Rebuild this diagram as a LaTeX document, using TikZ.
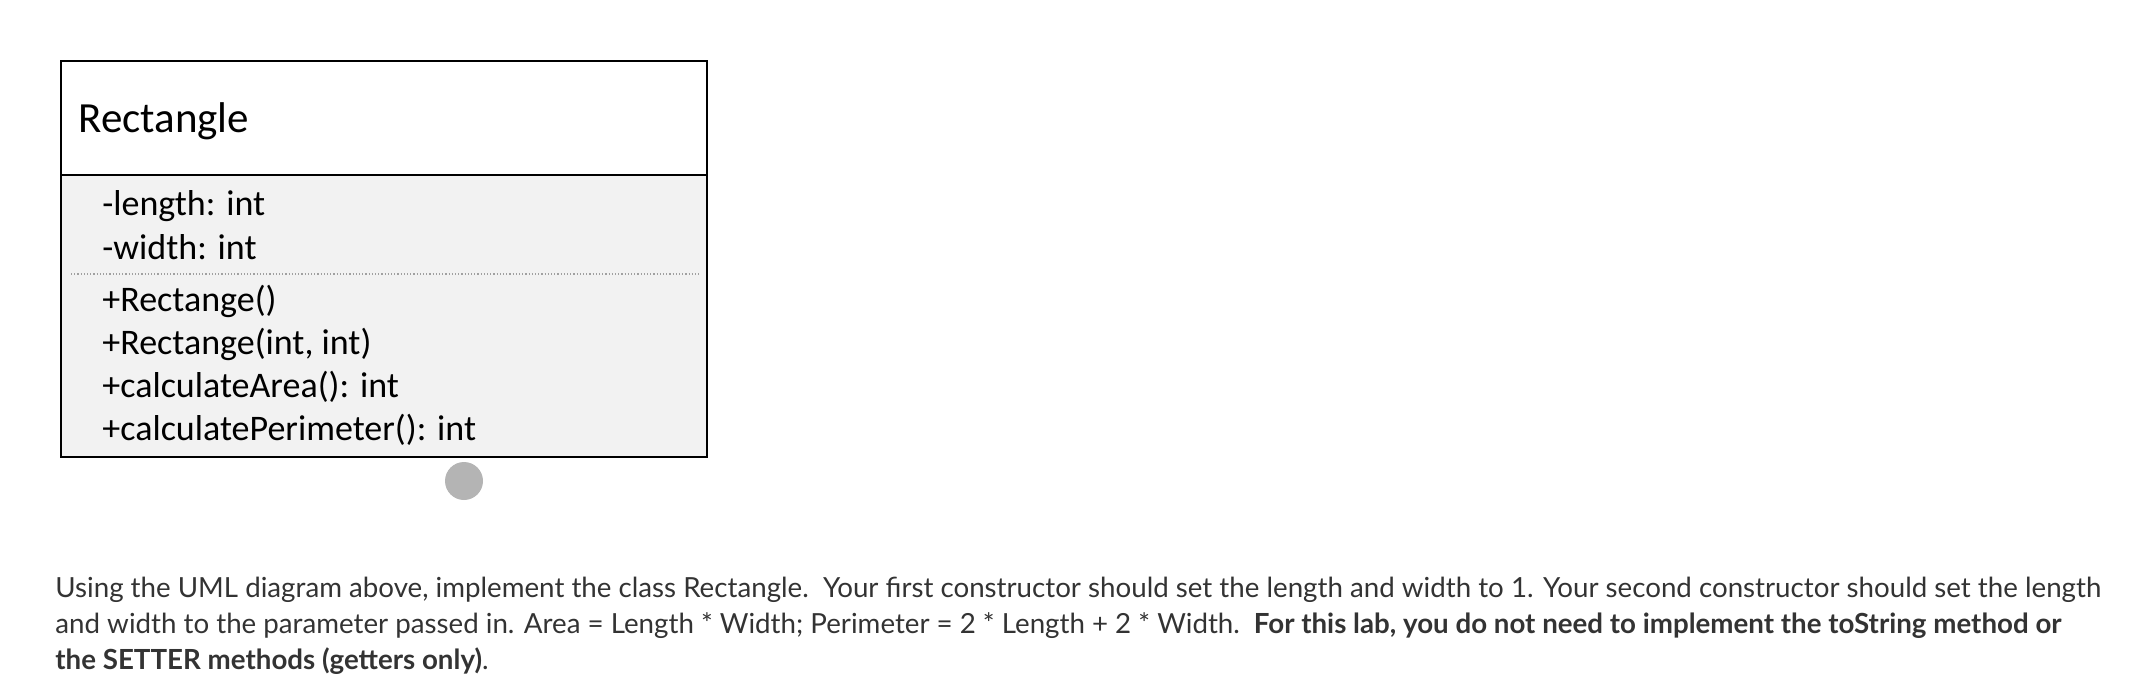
\documentclass[tikz,border=0pt]{standalone}
\usepackage{fontspec}
\setmainfont{Carlito}
\newfontfamily\bodyfont{Lato}
\definecolor{bodyfill}{HTML}{F2F2F2}
\definecolor{dotgray}{HTML}{A0A0A0}
\definecolor{knob}{HTML}{B4B4B4}
\definecolor{txtgray}{HTML}{333333}
\tikzset{
  compart/.style={draw=black, line width=1.2pt, minimum width=323pt, inner sep=0pt},
  member/.style={anchor=base west, inner sep=0pt, font=\fontsize{18}{21}\selectfont, text=black},
  para/.style={anchor=base west, inner sep=0pt, font=\bodyfont\fontsize{13.85}{16}\selectfont, text=txtgray}
}
\begin{document}
\begin{tikzpicture}[x=0.5pt,y=-0.5pt]
\useasboundingbox (0,0) rectangle (2140,700);
\node[compart, fill=white, minimum height=57pt] (head) at (384,118) {};
\node[compart, fill=bodyfill, minimum height=141pt] (body) at (384,316) {};
\node[anchor=base west, inner sep=0pt, font=\fontsize{21.5}{25}\selectfont] (title) at (78,133) {Rectangle};
\node[member] (a1) at (102,216) {-length: int};
\node[member] (a2) at (102,259) {-width: int};
\coordinate (dl) at (71,274);
\coordinate (dr) at (699,274);
\draw[dotgray, line width=0.6pt, densely dotted] (dl) -- (dr);
\node[member] (m1) at (102,311) {+Rectange()};
\node[member] (m2) at (102,354) {+Rectange(int, int)};
\node[member] (m3) at (102,397) {+calculateArea(): int};
\node[member] (m4) at (102,440) {+calculatePerimeter(): int};
\node[circle, fill=knob, minimum size=19pt, inner sep=0pt] (knob) at (464,481) {};
\node[para] (p1) at (55,597) {Using the UML diagram above, implement the class Rectangle.\ \ Your first constructor should set the length and width to 1. Your second constructor should set the length};
\node[para] (p2) at (55,633) {and width to the parameter passed in. Area = Length * Width; Perimeter = 2 * Length + 2 * Width.\ \ \textbf{For this lab, you do not need to implement the toString method or}};
\node[para] (p3) at (55,669) {\textbf{the SETTER methods (getters only)}.};
\end{tikzpicture}
\end{document}
